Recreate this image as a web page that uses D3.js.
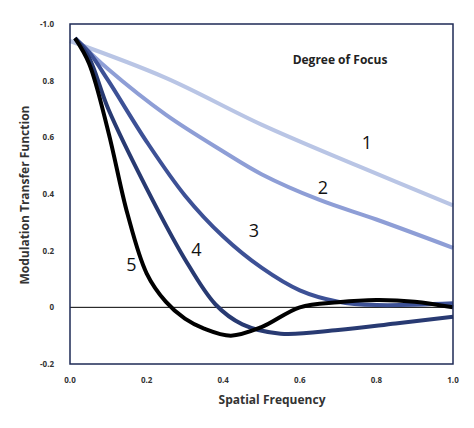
<!DOCTYPE html><html><head><meta charset="utf-8"><script src="https://cdn.jsdelivr.net/npm/d3@7"></script>
<style>body{margin:0;background:#fff}text{font-family:"Open Sans",Arial,sans-serif}</style></head><body><svg id="c" width="474" height="428"></svg><script>
const xTicks=[0,0.2,0.4,0.6,0.8,1.0];
const xTickLabels=["0.0","0.2","0.4","0.6","0.8","1.0"];
const yTicks=[1.0,0.8,0.6,0.4,0.2,0,-0.2];
const yTickLabels=["-1.0","0.8","0.6","0.4","0.2","0","-0.2"];
const s1x=[0,0.25,0.5,0.75,1.0], s1y=[0.94,0.81,0.645,0.50,0.36];
const s2x=[0.013,0.1,0.25,0.4,0.5,0.65,0.8,1.0], s2y=[0.95,0.84,0.68,0.55,0.47,0.38,0.31,0.21];
const s3x=[0.013,0.05,0.1,0.2,0.3,0.4,0.5,0.6,0.7,0.8,1.0], s3y=[0.95,0.90,0.80,0.585,0.395,0.25,0.14,0.06,0.02,0.008,0.014];
const s4x=[0.013,0.05,0.1,0.2,0.3,0.38,0.45,0.55,0.7,0.85,1.0], s4y=[0.95,0.88,0.70,0.42,0.17,0.01,-0.06,-0.093,-0.08,-0.057,-0.033];
const s5x=[0.013,0.05,0.1,0.15,0.2,0.25,0.3,0.35,0.42,0.5,0.6,0.7,0.8,0.9,1.0], s5y=[0.95,0.86,0.62,0.33,0.12,0.02,-0.04,-0.075,-0.1,-0.07,0,0.018,0.026,0.02,0];
const series=[[s1x,s1y,"#b9c5e5","1"],[s2x,s2y,"#8e9ed6","2"],[s3x,s3y,"#3d5196","3"],[s4x,s4y,"#283a72","4"],[s5x,s5y,"#000","5"]];
const labelPos=[[0.775,0.56],[0.66,0.40],[0.48,0.25],[0.33,0.18],[0.16,0.13]];
const svg=d3.select("#c");
const x=d3.scaleLinear().domain([0,1]).range([70,453]);
const y=d3.scaleLinear().domain([-0.2,1]).range([364,24]);
svg.append("line").attr("x1",x(0)).attr("x2",x(1)).attr("y1",y(0)).attr("y2",y(0)).attr("stroke","#000").attr("stroke-width",1);
const line=d3.line().curve(d3.curveCatmullRom.alpha(0.5));
series.forEach(([xs,ys,c])=>{svg.append("path").attr("d",line(xs.map((v,i)=>[x(v),y(ys[i])]))).attr("fill","none").attr("stroke",c).attr("stroke-width",4);});
svg.append("rect").attr("x",70).attr("y",24).attr("width",383).attr("height",340).attr("fill","none").attr("stroke","#1e2a55").attr("stroke-width",1.5);
yTicks.forEach((t,i)=>svg.append("text").attr("x",54).attr("y",y(t)+3).attr("text-anchor","end").attr("font-size",8).attr("font-weight","bold").attr("fill","#333").text(yTickLabels[i]));
xTicks.forEach((t,i)=>svg.append("text").attr("x",x(t)).attr("y",383).attr("text-anchor","middle").attr("font-size",8).attr("font-weight","bold").attr("fill","#333").text(xTickLabels[i]));
series.forEach((s,i)=>svg.append("text").attr("x",x(labelPos[i][0])).attr("y",y(labelPos[i][1])).attr("text-anchor","middle").attr("font-size",18).attr("fill","#111").text(s[3]));
svg.append("text").attr("x",340).attr("y",64).attr("text-anchor","middle").attr("font-size",12).attr("font-weight","bold").attr("fill","#222").text("Degree of Focus");
svg.append("text").attr("x",272).attr("y",404).attr("text-anchor","middle").attr("font-size",12).attr("font-weight","bold").attr("fill","#333").text("Spatial Frequency");
svg.append("text").attr("transform","translate(29,195) rotate(-90)").attr("text-anchor","middle").attr("font-size",12).attr("font-weight","bold").attr("fill","#333").text("Modulation Transfer Function");
</script></body></html>
